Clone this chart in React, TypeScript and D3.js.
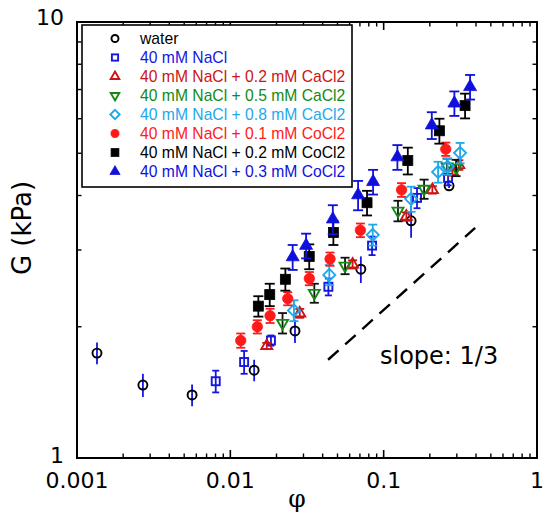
import React from "react";
import * as d3 from "d3";

// ---------------- data ----------------
const waterPhi = [0.00135, 0.00269, 0.00563, 0.0143, 0.0264, 0.071, 0.151, 0.267];
const waterG = [1.74, 1.47, 1.395, 1.59, 1.956, 2.71, 3.5, 4.21];
const waterErr = [0.1, 0.09, 0.08, 0.09, 0.12, 0.19, 0.3, 0.05];

const naclPhi = [0.00803, 0.0123, 0.0184, 0.0436, 0.084, 0.165, 0.263];
const naclG = [1.5, 1.66, 1.86, 2.47, 3.07, 3.95, 4.39];
const naclErr = [0.086, 0.1, 0.05, 0.11, 0.15, 0.21, 0.17];

const ca02Phi = [0.01728, 0.02836, 0.0627, 0.1406, 0.2078, 0.2807, 0.309];
const ca02G = [1.807, 2.147, 2.78, 3.58, 4.12, 4.54, 4.7];
const ca02Err = [0.03, 0.05, 0.06, 0.08, 0.08, 0.1, 0.12];

const ca05Phi = [0.0219, 0.0353, 0.056, 0.124, 0.1835, 0.2592, 0.2967];
const ca05G = [2.04, 2.39, 2.76, 3.69, 4.14, 4.66, 4.63];
const ca05Err = [0.11, 0.12, 0.12, 0.2, 0.21, 0.2, 0.2];

const ca08Phi = [0.026, 0.0442, 0.0849, 0.151, 0.2264, 0.2615, 0.315];
const ca08G = [2.18, 2.63, 3.25, 3.93, 4.53, 4.66, 5.01];
const ca08Err = [0.12, 0.14, 0.18, 0.26, 0.25, 0.2, 0.27];

const co01Phi = [0.01169, 0.015, 0.01816, 0.02368, 0.03275, 0.0447, 0.0705, 0.1308, 0.254];
const co01G = [1.86, 2.0, 2.12, 2.32, 2.58, 2.86, 3.33, 4.12, 5.11];
const co01Err = [0.07, 0.07, 0.08, 0.08, 0.09, 0.1, 0.12, 0.15, 0.18];

const co02Phi = [0.01523, 0.01807, 0.02285, 0.0327, 0.047, 0.0779, 0.1437, 0.2309, 0.3396];
const co02G = [2.23, 2.37, 2.57, 2.9, 3.29, 3.85, 4.81, 5.63, 6.43];
const co02Err = [0.12, 0.14, 0.15, 0.19, 0.21, 0.25, 0.34, 0.37, 0.42];

const co03Phi = [0.0255, 0.0312, 0.0466, 0.0681, 0.0853, 0.1229, 0.206, 0.2892, 0.366];
const co03G = [2.89, 3.07, 3.53, 4.01, 4.3, 4.9, 5.8, 6.51, 7.1];
const co03Err = [0.19, 0.2, 0.27, 0.31, 0.28, 0.32, 0.41, 0.42, 0.46];

const slopePhi = [0.0434, 0.395];
const slopeG = [1.68, 3.37];

const legendLabels = [
  "water",
  "40 mM NaCl",
  "40 mM NaCl + 0.2 mM CaCl2",
  "40 mM NaCl + 0.5 mM CaCl2",
  "40 mM NaCl + 0.8 mM CaCl2",
  "40 mM NaCl + 0.1 mM CoCl2",
  "40 mM NaCl + 0.2 mM CoCl2",
  "40 mM NaCl + 0.3 mM CoCl2",
];
const xTickValues = [0.001, 0.01, 0.1, 1];
const xTickLabels = ["0.001", "0.01", "0.1", "1"];
const yTickValues = [1, 10];
const yTickLabels = ["1", "10"];

// ---------------- styling ----------------
type Shape = "circle" | "square" | "triUp" | "triDown" | "diamond";
interface Series {
  phi: number[];
  g: number[];
  err: number[];
  shape: Shape;
  filled: boolean;
  color: string;
  errColor: string;
  cap: number;
  size: number;
  label: string;
}

const BLUE = "#1616e0";
const series: Series[] = [
  { phi: waterPhi, g: waterG, err: waterErr, shape: "circle", filled: false, color: "#000", errColor: BLUE, cap: 0, size: 4.5, label: legendLabels[0] },
  { phi: naclPhi, g: naclG, err: naclErr, shape: "square", filled: false, color: BLUE, errColor: BLUE, cap: 7, size: 8, label: legendLabels[1] },
  { phi: ca02Phi, g: ca02G, err: ca02Err, shape: "triUp", filled: false, color: "#cc1414", errColor: "#cc1414", cap: 9, size: 11, label: legendLabels[2] },
  { phi: ca05Phi, g: ca05G, err: ca05Err, shape: "triDown", filled: false, color: "#148a14", errColor: "#111", cap: 9, size: 11, label: legendLabels[3] },
  { phi: ca08Phi, g: ca08G, err: ca08Err, shape: "diamond", filled: false, color: "#1fa8ec", errColor: "#1fa8ec", cap: 9, size: 6, label: legendLabels[4] },
  { phi: co01Phi, g: co01G, err: co01Err, shape: "circle", filled: true, color: "#ff1a1a", errColor: "#ff1a1a", cap: 9, size: 5.2, label: legendLabels[5] },
  { phi: co02Phi, g: co02G, err: co02Err, shape: "square", filled: true, color: "#000", errColor: "#000", cap: 10, size: 10, label: legendLabels[6] },
  { phi: co03Phi, g: co03G, err: co03Err, shape: "triUp", filled: true, color: "#1010dc", errColor: "#1010dc", cap: 10, size: 13, label: legendLabels[7] },
];

const W = 550;
const H = 521;
const L = 77, R = 537, T = 22, B = 458;

const x = d3.scaleLog().domain([0.001, 1]).range([L, R]);
const y = d3.scaleLog().domain([1, 10]).range([B, T]);

function Marker({ shape, filled, color, size, cx, cy }: { shape: Shape; filled: boolean; color: string; size: number; cx: number; cy: number }) {
  const fill = filled ? color : "none";
  const sw = filled ? 0.8 : 1.9;
  if (shape === "circle") return <circle cx={cx} cy={cy} r={size} fill={fill} stroke={color} strokeWidth={sw} />;
  if (shape === "square")
    return <rect x={cx - size / 2} y={cy - size / 2} width={size} height={size} fill={fill} stroke={color} strokeWidth={sw} />;
  if (shape === "diamond") {
    const s = size;
    return <path d={`M${cx},${cy - s}L${cx + s},${cy}L${cx},${cy + s}L${cx - s},${cy}Z`} fill={fill} stroke={color} strokeWidth={sw} />;
  }
  const s = size;
  const h = (s * Math.sqrt(3)) / 2;
  if (shape === "triUp")
    return <path d={`M${cx},${cy - (2 * h) / 3}L${cx + s / 2},${cy + h / 3}L${cx - s / 2},${cy + h / 3}Z`} fill={fill} stroke={color} strokeWidth={sw} strokeLinejoin="miter" />;
  return <path d={`M${cx},${cy + (2 * h) / 3}L${cx + s / 2},${cy - h / 3}L${cx - s / 2},${cy - h / 3}Z`} fill={fill} stroke={color} strokeWidth={sw} />;
}

export default function App() {
  const minor: number[] = [];
  for (const dec of [0.001, 0.01, 0.1]) for (let k = 2; k <= 9; k++) minor.push(dec * k);
  const yMinor: number[] = [];
  for (let k = 2; k <= 9; k++) yMinor.push(k);

  const slopeLine = d3
    .line<number>()
    .x((_, i) => x(slopePhi[i]))
    .y((_, i) => y(slopeG[i]));

  const legX = 82, legY = 25, legW = 270, legH = 162;
  return (
    <svg width={W} height={H} style={{ position: "absolute", left: 0, top: 0, background: "#fff" }} fontFamily="'DejaVu Sans', sans-serif">
      <rect x={0} y={0} width={W} height={H} fill="#fff" />
      {/* ticks */}
      {xTickValues.slice(1, 3).map((v) => (
        <g key={"xM" + v}>
          <line x1={x(v)} x2={x(v)} y1={B} y2={B - 8} stroke="#000" strokeWidth={1.6} />
          <line x1={x(v)} x2={x(v)} y1={T} y2={T + 8} stroke="#000" strokeWidth={1.6} />
        </g>
      ))}
      {minor.map((v) => (
        <g key={"xm" + v}>
          <line x1={x(v)} x2={x(v)} y1={B} y2={B - 4.5} stroke="#000" strokeWidth={1.4} />
          <line x1={x(v)} x2={x(v)} y1={T} y2={T + 4.5} stroke="#000" strokeWidth={1.4} />
        </g>
      ))}
      {yMinor.map((v) => (
        <g key={"ym" + v}>
          <line x1={L} x2={L + 4.5} y1={y(v)} y2={y(v)} stroke="#000" strokeWidth={1.4} />
          <line x1={R} x2={R - 4.5} y1={y(v)} y2={y(v)} stroke="#000" strokeWidth={1.4} />
        </g>
      ))}
      <rect x={L} y={T} width={R - L} height={B - T} fill="none" stroke="#000" strokeWidth={2} />

      {/* tick labels */}
      {xTickValues.map((v, i) => (
        <text key={"xl" + v} x={x(v)} y={488} fontSize={22} textAnchor="middle" fill="#000">
          {xTickLabels[i]}
        </text>
      ))}
      {yTickValues.map((v, i) => (
        <text key={"yl" + v} x={64} y={v === 10 ? 25 : y(v) + 5} fontSize={22} textAnchor="end" fill="#000">
          {yTickLabels[i]}
        </text>
      ))}
      <text transform="translate(31,228) rotate(-90)" fontSize={26} textAnchor="middle" fill="#000">
        G (kPa)
      </text>
      <text x={297} y={507} fontSize={25} textAnchor="middle" fontFamily="'DejaVu Serif', serif" fill="#000">
        φ
      </text>

      {/* slope guide */}
      <path d={slopeLine(slopePhi) || ""} fill="none" stroke="#000" strokeWidth={2.4} strokeDasharray="14 9" />
      <text x={380} y={364} fontSize={24} fill="#000">
        slope: 1/3
      </text>

      {/* data */}
      {series.map((s, si) => (
        <g key={"s" + si}>
          {s.phi.map((p, i) => {
            const cx = x(p);
            const y1 = y(s.g[i] + s.err[i]);
            const y2 = y(s.g[i] - s.err[i]);
            return (
              <g key={"e" + i}>
                <line x1={cx} x2={cx} y1={y1} y2={y2} stroke={s.errColor} strokeWidth={1.8} />
                {s.cap > 0 && (
                  <>
                    <line x1={cx - s.cap / 2} x2={cx + s.cap / 2} y1={y1} y2={y1} stroke={s.errColor} strokeWidth={1.8} />
                    <line x1={cx - s.cap / 2} x2={cx + s.cap / 2} y1={y2} y2={y2} stroke={s.errColor} strokeWidth={1.8} />
                  </>
                )}
              </g>
            );
          })}
          {s.phi.map((p, i) => (
            <Marker key={"m" + i} shape={s.shape} filled={s.filled} color={s.color} size={s.size} cx={x(p)} cy={y(s.g[i])} />
          ))}
        </g>
      ))}

      {/* legend */}
      <rect x={legX} y={legY} width={legW} height={legH} fill="#fff" stroke="#000" strokeWidth={1.6} />
      {series.map((s, i) => {
        const ly = 38.5 + i * 19;
        return (
          <g key={"lg" + i}>
            <Marker shape={s.shape} filled={s.filled} color={s.color} size={s.size * 0.78} cx={115} cy={ly} />
            <text x={140} y={ly + 5.5} fontSize={15.7} fontFamily="'Liberation Sans', Arial, sans-serif" fill={s.color}>
              {s.label}
            </text>
          </g>
        );
      })}
    </svg>
  );
}
